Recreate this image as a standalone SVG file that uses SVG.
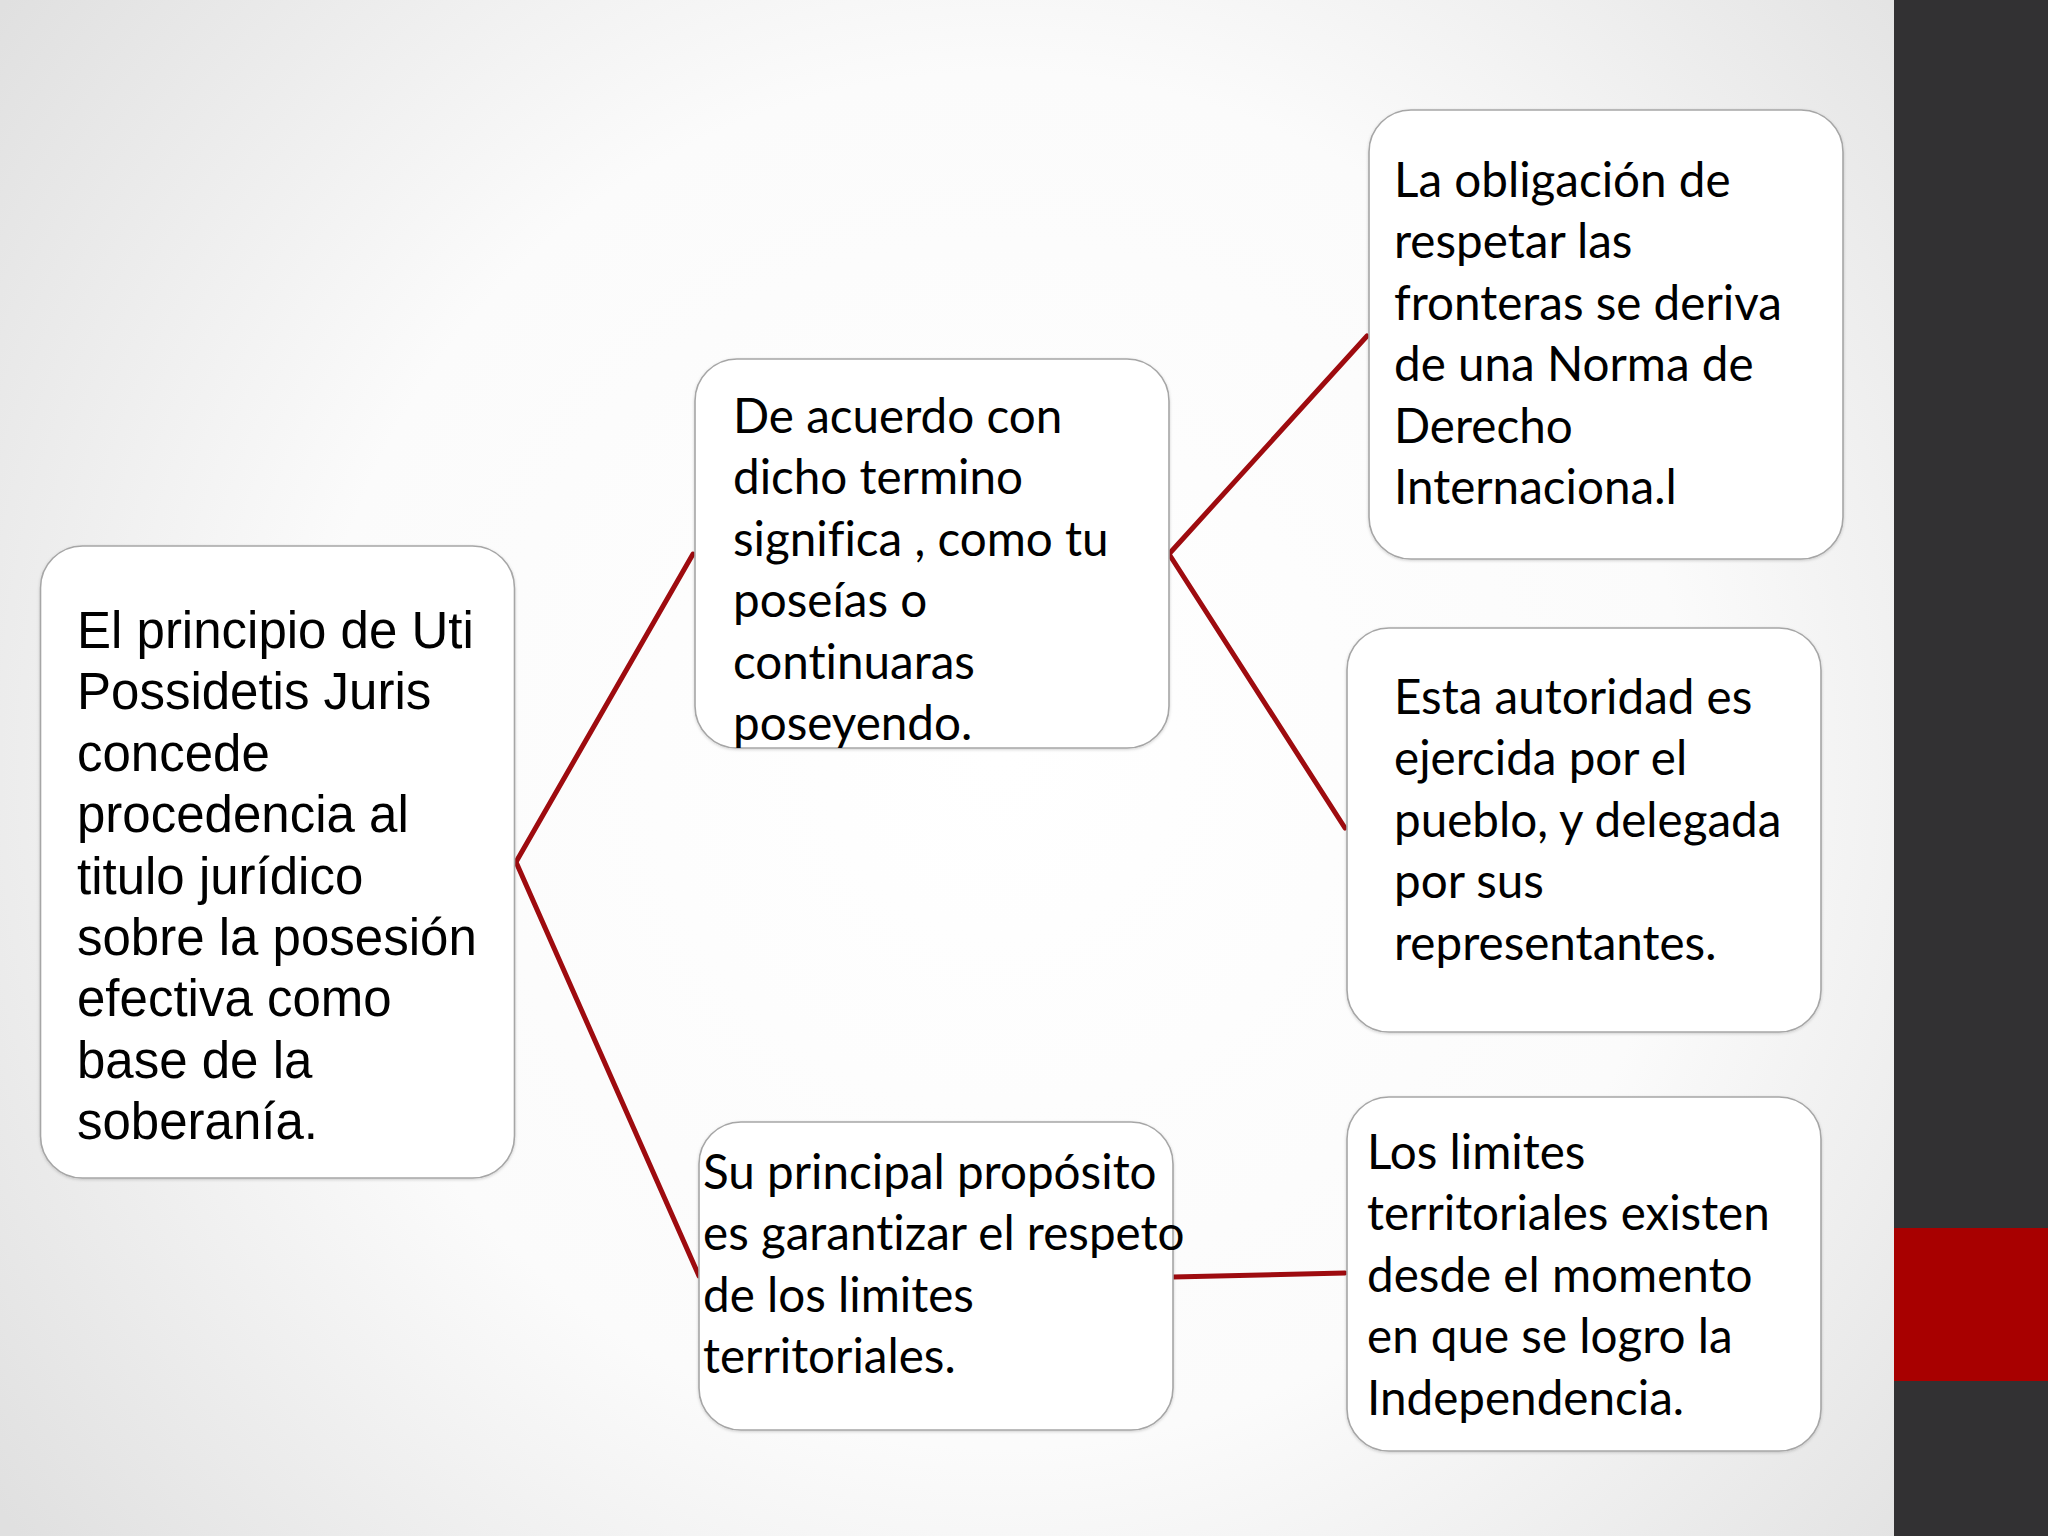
<svg xmlns="http://www.w3.org/2000/svg" width="2048" height="1536" viewBox="0 0 2048 1536">
<defs>
<radialGradient id="bg" cx="1000" cy="760" r="1250" gradientUnits="userSpaceOnUse">
<stop offset="0" stop-color="#ffffff"/>
<stop offset="0.55" stop-color="#fbfbfb"/>
<stop offset="1" stop-color="#e0e0e0"/>
</radialGradient>
<filter id="sh" x="-5%" y="-5%" width="110%" height="110%">
<feDropShadow dx="0" dy="1" stdDeviation="1.5" flood-color="#000" flood-opacity="0.18"/>
</filter>
<style>
.box{fill:#ffffff;stroke:#a6a6a6;stroke-width:1.6;filter:url(#sh)}
.t1{font-family:"Liberation Sans",Arial,sans-serif;font-size:51px;fill:#000}
.t2{font-family:Lato,"Open Sans",sans-serif;font-size:47.6px;fill:#000;font-variant-ligatures:none}
.con{stroke:#9e0b0f;stroke-width:5;fill:none;stroke-linecap:round}
</style>
</defs>
<rect x="0" y="0" width="2048" height="1536" fill="url(#bg)"/>
<rect x="1894" y="0" width="154" height="1536" fill="#323133"/>
<rect x="1894" y="1228" width="154" height="153" fill="#a80000"/>
<g id="connectors">
<line class="con" x1="516" y1="862" x2="693" y2="554"/>
<line class="con" x1="516" y1="862" x2="699" y2="1276"/>
<line class="con" x1="1169" y1="554" x2="1367" y2="336"/>
<line class="con" x1="1169" y1="554" x2="1345" y2="828"/>
<line class="con" x1="1173" y1="1277" x2="1345" y2="1273"/>
</g>
<g id="node-principio">
<rect class="box" x="40.5" y="546" width="474" height="632" rx="42"/>
<text class="t1" x="77" y="648">El principio de Uti</text>
<text class="t1" x="77" y="709.4">Possidetis Juris</text>
<text class="t1" x="77" y="770.8">concede</text>
<text class="t1" x="77" y="832.2">procedencia al</text>
<text class="t1" x="77" y="893.6">titulo jurídico</text>
<text class="t1" x="77" y="955">sobre la posesión</text>
<text class="t1" x="77" y="1016.4">efectiva como</text>
<text class="t1" x="77" y="1077.8">base de la</text>
<text class="t1" x="77" y="1139.2">soberanía.</text>
</g>
<g id="node-acuerdo">
<rect class="box" x="695" y="359" width="474" height="389" rx="42"/>
<text class="t2" x="733" y="433">De acuerdo con</text>
<text class="t2" x="733" y="494.4">dicho termino</text>
<text class="t2" x="733" y="555.8">significa , como tu</text>
<text class="t2" x="733" y="617.2">poseías o</text>
<text class="t2" x="733" y="678.6">continuaras</text>
<text class="t2" x="733" y="740">poseyendo.</text>
</g>
<g id="node-obligacion">
<rect class="box" x="1369" y="110" width="474" height="449" rx="42"/>
<text class="t2" x="1394" y="197">La obligación de</text>
<text class="t2" x="1394" y="258.4">respetar las</text>
<text class="t2" x="1394" y="319.8">fronteras se deriva</text>
<text class="t2" x="1394" y="381.2">de una Norma de</text>
<text class="t2" x="1394" y="442.6">Derecho</text>
<text class="t2" x="1394" y="504">Internaciona.l</text>
</g>
<g id="node-autoridad">
<rect class="box" x="1347" y="628" width="474" height="404" rx="42"/>
<text class="t2" x="1394" y="714">Esta autoridad es</text>
<text class="t2" x="1394" y="775.4">ejercida por el</text>
<text class="t2" x="1394" y="836.8">pueblo, y delegada</text>
<text class="t2" x="1394" y="898.2">por sus</text>
<text class="t2" x="1394" y="959.6">representantes.</text>
</g>
<g id="node-proposito">
<rect class="box" x="699" y="1122" width="474" height="308" rx="42"/>
<text class="t2" x="703" y="1189">Su principal propósito</text>
<text class="t2" x="703" y="1250.4">es garantizar el respeto</text>
<text class="t2" x="703" y="1311.8">de los limites</text>
<text class="t2" x="703" y="1373.2">territoriales.</text>
</g>
<g id="node-limites">
<rect class="box" x="1347" y="1097" width="474" height="354" rx="42"/>
<text class="t2" x="1367" y="1169">Los limites</text>
<text class="t2" x="1367" y="1230.4">territoriales existen</text>
<text class="t2" x="1367" y="1291.8">desde el momento</text>
<text class="t2" x="1367" y="1353.2">en que se logro la</text>
<text class="t2" x="1367" y="1414.6">Independencia.</text>
</g>
</svg>
